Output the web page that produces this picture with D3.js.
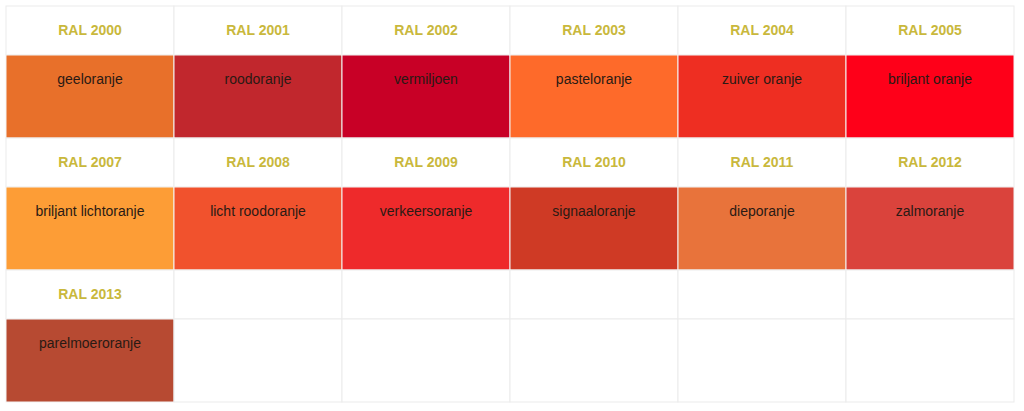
<!DOCTYPE html>
<html><head><meta charset="utf-8">
<script src="https://cdn.jsdelivr.net/npm/d3@7"></script>
<style>body{margin:0;background:#fff;}</style>
</head><body>
<svg id="chart"></svg>
<script>
// RAL codes, Dutch names and swatch colours
const codes = ["RAL 2000","RAL 2001","RAL 2002","RAL 2003","RAL 2004","RAL 2005",
               "RAL 2007","RAL 2008","RAL 2009","RAL 2010","RAL 2011","RAL 2012","RAL 2013"];
const names = ["geeloranje","roodoranje","vermiljoen","pasteloranje","zuiver oranje","briljant oranje",
               "briljant lichtoranje","licht roodoranje","verkeersoranje","signaaloranje","dieporanje","zalmoranje","parelmoeroranje"];
const swatches = ["#e8702a","#c1272d","#c80026","#fe6a2a","#ee2e22","#fe0019",
                  "#fd9d36","#f1522d","#ee2a2b","#cf3a25","#e8733b","#da433c","#b74a32"];

const W = 1024, H = 411;
const cols = 6, rows = Math.ceil(codes.length / cols);
const headH = 49, swH = 83;

const svg = d3.select("#chart").attr("width", W).attr("height", H);

const x = d3.scaleBand().domain(d3.range(cols)).range([6, 1014]);
const y = d3.scaleBand().domain(d3.range(rows)).range([6, 6 + rows * (headH + swH)]);

const cells = d3.range(rows * cols).map(i => ({
    i: i, col: i % cols, row: Math.floor(i / cols),
    code: codes[i], name: names[i], color: swatches[i]
}));

const g = svg.selectAll(".cell").data(cells).enter().append("g")
    .attr("transform", d => `translate(${x(d.col)},${y(d.row)})`);

// header cell
g.append("rect").attr("width", x.bandwidth()).attr("height", headH)
    .attr("fill", "#fff").attr("stroke", "#ebebeb");
// swatch cell
g.append("rect").attr("y", headH).attr("width", x.bandwidth()).attr("height", swH)
    .attr("fill", d => d.color || "#fff").attr("stroke", d => d.color ? "#f3f3f3" : "#ebebeb");

g.filter(d => d.code).append("text")
    .attr("x", x.bandwidth() / 2).attr("y", 29)
    .attr("text-anchor", "middle")
    .style("font", "bold 14px Arial, 'Liberation Sans', sans-serif")
    .attr("fill", "#c9b83c")
    .text(d => d.code);

g.filter(d => d.name).append("text")
    .attr("x", x.bandwidth() / 2).attr("y", headH + 29)
    .attr("text-anchor", "middle")
    .style("font", "14px Arial, 'Liberation Sans', sans-serif")
    .attr("fill", "#2a1a14")
    .text(d => d.name);
</script>
</body></html>
